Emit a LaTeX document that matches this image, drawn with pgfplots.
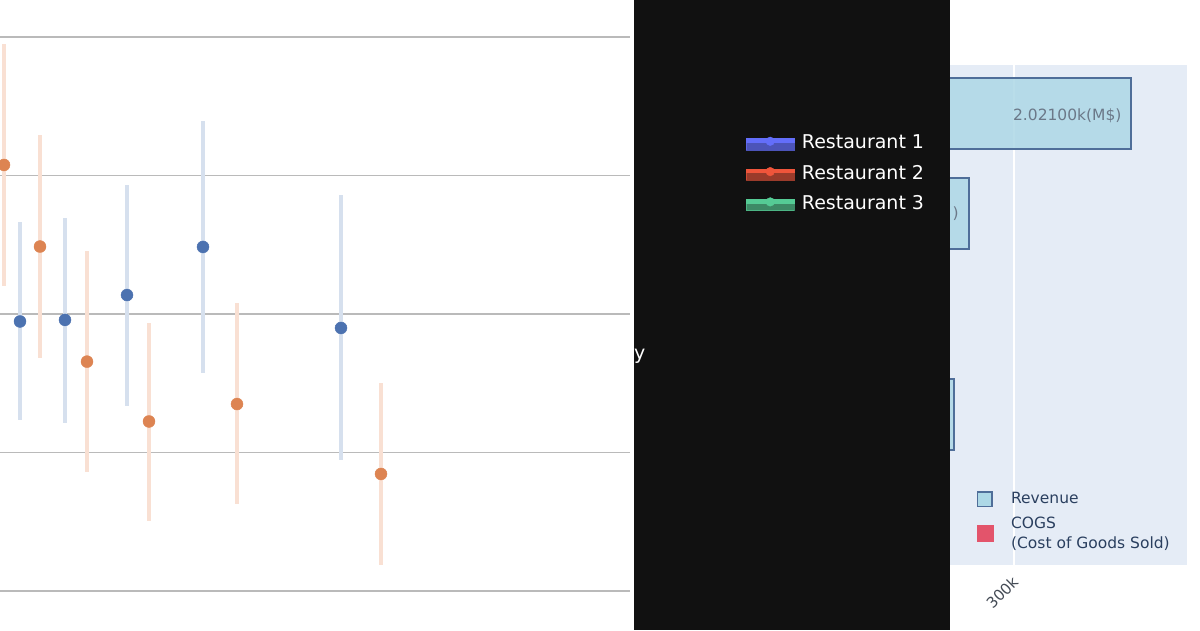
\documentclass[border=0pt]{standalone}
\usepackage{pgfplots}
\pgfplotsset{compat=1.18}
\usepackage{pgfplotstable}
\usepackage{fontspec}
\setmainfont{DejaVu Sans}
\definecolor{gridgray}{HTML}{BABABA}
\definecolor{blueM}{HTML}{4C72B0}
\definecolor{orangeM}{HTML}{DD8452}
\definecolor{blueE}{HTML}{D6E0EE}
\definecolor{orangeE}{HTML}{F9E0D3}
\definecolor{panelblack}{HTML}{111111}
\definecolor{plotbg}{HTML}{E5ECF6}
\definecolor{barfill}{HTML}{ADD8E6}
\definecolor{baredge}{HTML}{4F6E99}
\definecolor{cogs}{HTML}{E3546B}
\definecolor{plotlytext}{HTML}{2A3F5F}
\definecolor{labgray}{HTML}{6B7888}
\definecolor{tickgray}{HTML}{444B55}
\definecolor{rA}{HTML}{636EFA}
\definecolor{rB}{HTML}{EF553B}
\definecolor{rC}{HTML}{55CB95}

\pgfplotstableread{
x y ep em
4 3.076 0.873 0.874
40 2.487 0.805 0.805
87 1.656 0.799 0.797
149 1.224 0.711 0.719
237 1.350 0.729 0.725
381 0.845 0.657 0.657
}\orangedata
\pgfplotstableread{
x y ep em
20 1.946 0.718 0.711
65 1.957 0.733 0.744
127 2.137 0.794 0.801
203 2.484 0.906 0.910
341 1.899 0.957 0.953
}\bluedata

\begin{document}
\begin{tikzpicture}[x=1pt,y=1pt]
\useasboundingbox (0,0) rectangle (1200,630);
\fill[white] (0,0) rectangle (1200,630);

% ---------- left panel ----------
\begin{axis}[at={(0pt,0pt)}, anchor=south west,
  width=630pt, height=630pt, scale only axis,
  xmin=0, xmax=630, ymin=-0.2816, ymax=4.267,
  axis line style={draw=none},
  xtick=\empty, ytick={0,1,2,3,4}, yticklabel=\empty,
  major tick length=0pt,
  ymajorgrids, grid style={gridgray, line width=1.6pt}]
\addplot[only marks, mark=*, mark size=6pt, color=orangeM,
  mark options={fill=orangeM, draw=orangeM},
  error bars/.cd, y dir=both, y explicit,
  error bar style={orangeE, line width=4.5pt}, error mark=none]
  table[x=x, y=y, y error plus=ep, y error minus=em]{\orangedata};
\addplot[only marks, mark=*, mark size=6pt, color=blueM,
  mark options={fill=blueM, draw=blueM},
  error bars/.cd, y dir=both, y explicit,
  error bar style={blueE, line width=4.5pt}, error mark=none]
  table[x=x, y=y, y error plus=ep, y error minus=em]{\bluedata};
\end{axis}

% ---------- right panel ----------
\begin{axis}[at={(940pt,65pt)}, anchor=south west,
  width=247pt, height=500pt, scale only axis,
  xmin=226, xmax=473, ymin=0, ymax=5,
  axis background/.style={fill=plotbg},
  axis line style={draw=none},
  xbar, bar width=71pt,
  ytick=\empty, xtick={300}, xticklabels={300k},
  major tick length=0pt,
  xmajorgrids, grid style={white, line width=1.5pt},
  xticklabel style={rotate=45, anchor=east, inner sep=0pt, xshift=-9pt, yshift=-11pt,
    font=\fontsize{15}{18}\selectfont, text=tickgray},
  legend cell align=left,
  legend style={draw=none, fill=none, at={(axis cs:262.7,0.74)},
    anchor=north west, inner sep=0pt, outer sep=0pt,
    row sep=9.5pt, column sep=18pt,
    font=\fontsize{15.5}{20}\selectfont, text=plotlytext,
    nodes={inner sep=0pt, align=left}}]
\addplot[forget plot, bar shift=0pt, draw=baredge, line width=2pt, fill=barfill, fill opacity=0.85]
  coordinates {(417,4.517) (254.7,3.515) (240,1.51)};
\addlegendimage{legend image code/.code={
  \fill[barfill, draw=baredge, line width=1.5pt] (0.75pt,-7.25pt) rectangle (15.25pt,7.25pt);}}
\addlegendentry{Revenue}
\addlegendimage{legend image code/.code={
  \fill[cogs] (0pt,-8pt) rectangle (16pt,8pt);}}
\addlegendentry{COGS\\(Cost of Goods Sold)}
\node[anchor=east, inner sep=0pt, text=labgray, font=\fontsize{15.5}{18}\selectfont]
  at (axis cs:407.7,4.49) {2.02100k(M\$)};
\node[anchor=west, inner sep=0pt, text=labgray, font=\fontsize{15.5}{18}\selectfont]
  at (axis cs:238.5,3.515) {)};
\end{axis}

% ---------- middle panel ----------
\fill[panelblack] (634,0) rectangle (950,630);
\begin{axis}[at={(634pt,0pt)}, anchor=south west,
  width=315pt, height=630pt, scale only axis, hide axis,
  xmin=0, xmax=1, ymin=0, ymax=1,
  legend cell align=left,
  legend style={draw=none, fill=none, at={(rel axis cs:0.3556,0.7873)},
    anchor=north west, inner sep=0pt, outer sep=0pt,
    row sep=10.3pt, column sep=7.5pt,
    font=\fontsize{19}{22}\selectfont, text=white,
    nodes={inner sep=0pt, text height=15pt, text depth=5pt}}]
\addlegendimage{legend image code/.code={
  \fill[rA, opacity=0.72] (0pt,-6pt) rectangle (48pt,5.3pt);
  \fill[rA] (0pt,1.7pt) rectangle (48pt,5.3pt);
  \fill[rA] (24pt,2.7pt) circle (4.3pt);}}
\addlegendentry{Restaurant 1}
\addlegendimage{legend image code/.code={
  \fill[rB, opacity=0.62] (0pt,-6pt) rectangle (48pt,5.3pt);
  \fill[rB] (0pt,1.7pt) rectangle (48pt,5.3pt);
  \fill[rB] (24pt,2.7pt) circle (4.3pt);}}
\addlegendentry{Restaurant 2}
\addlegendimage{legend image code/.code={
  \fill[rC, opacity=0.65] (0pt,-6pt) rectangle (48pt,5.3pt);
  \fill[rC] (0pt,1.7pt) rectangle (48pt,5.3pt);
  \fill[rC] (24pt,2.7pt) circle (4.3pt);}}
\addlegendentry{Restaurant 3}
\end{axis}
\node[anchor=base west, inner sep=0pt, text=white, font=\fontsize{19}{22}\selectfont] at (634,270) {y};
\end{tikzpicture}
\end{document}
